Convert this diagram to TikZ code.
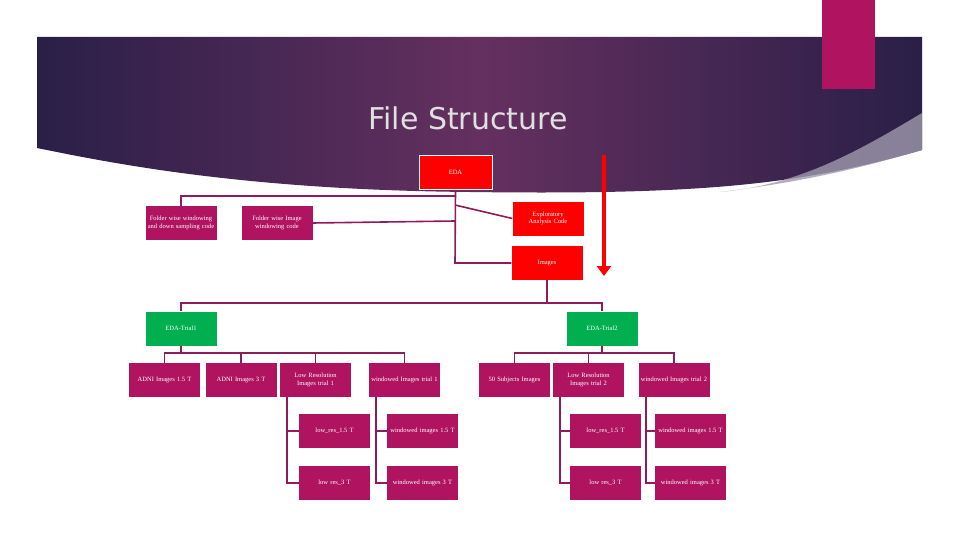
\documentclass[tikz,border=0pt]{standalone}
\usepackage{fontspec}
\setmainfont{Liberation Serif}
\newfontfamily\titlefont{DejaVu Sans}[Scale=1]
\usetikzlibrary{arrows.meta}
\definecolor{mag}{HTML}{B0135F}
\definecolor{lin}{HTML}{8E1B5C}
\definecolor{grn}{HTML}{00B050}
\definecolor{bdark}{HTML}{2A1F48}
\definecolor{bmid}{HTML}{65305F}
\tikzset{
 box/.style={draw=none,inner sep=1pt,align=center,font=\fontsize{6.5}{7.5}\selectfont,text=white,minimum width=71pt,minimum height=34pt,text width=69pt},
 m/.style={box,fill=mag},
 r/.style={box,fill=red},
 g/.style={box,fill=grn},
 ln/.style={draw=lin,line width=1.6pt}
}
\begin{document}
\begin{tikzpicture}[x=1pt,y=-1pt]
\useasboundingbox (0,0) rectangle (960,540);
\fill[white] (0,0) rectangle (960,540);
% banner
\shade[left color=bdark,right color=bdark,middle color=bmid] (37,37) -- (922,37) -- (922,150) .. controls (800,185) and (700,195) .. (470,192) .. controls (250,190) and (120,165) .. (37,148) -- cycle;
\fill[white!55!bdark,opacity=0.8] (922,113) .. controls (860,150) and (800,185) .. (720,192) .. controls (820,180) and (880,162) .. (922,150) -- cycle;
\fill[mag] (822,0) rectangle (875,89);
\node[font=\titlefont\fontsize{30}{34}\selectfont,text=white!88!black] (title) at (468,118) {File Structure};
% top level
\node[r,draw=white,line width=1pt,minimum width=73pt,text width=71pt] (eda) at (455.5,172.5) {EDA};
\node[m] (f1) at (181,223) {Folder wise windowing and down sampling code};
\node[m] (f2) at (277,223) {Folder wise Image windowing code};
\node[r] (exp) at (548,218.5) {Exploratory Analysis Code};
\node[r] (img) at (547,263) {Images};
\draw[-{Triangle[width=14pt,length=10pt]},draw=red,line width=4pt] (604,155) coordinate (a1) -- (604,276) coordinate (a2);
\coordinate (j1) at (455,196);
\draw[ln] (eda.south) -- (455,263) -- (img.west);
\draw[ln] (j1) -| (f1.north);
\draw[ln] (f2.east) -- (455,221);
\draw[ln] (455,205) -- (exp.west);
% trials
\node[g] (t1) at (181,328.5) {EDA-Trial1};
\node[g] (t2) at (602,328.5) {EDA-Trial2};
\draw[ln] (img.south) -- (547,303);
\draw[ln] (t1.north) |- (602,303) -- (t2.north);
% trial1 children
\node[m] (a15) at (164.5,380) {ADNI Images 1.5 T};
\node[m] (a3) at (241,380) {ADNI Images 3 T};
\node[m] (lr1) at (315.5,380) {Low Resolution Images trial 1};
\node[m] (w1) at (404.5,380) {windowed Images trial 1};
\draw[ln] (t1.south) -- (181,353);
\draw[ln] (a15.north) |- (w1.north |- 0,353) -- (w1.north);
\draw[ln] (a3.north) -- (241,353);
\draw[ln] (lr1.north) -- (315.5,353);
\node[m] (lr115) at (334.5,431) {low\_res\_1.5 T};
\node[m] (lr13) at (334.5,483) {low res\_3 T};
\node[m] (w115) at (422.5,431) {windowed images 1.5 T};
\node[m] (w13) at (422.5,483) {windowed images 3 T};
\draw[ln] (287,397) |- (lr13.west);
\draw[ln] (287,431) -- (lr115.west);
\draw[ln] (376,397) |- (w13.west);
\draw[ln] (376,431) -- (w115.west);
% trial2 children
\node[m] (s50) at (514.5,380) {50 Subjects Images};
\node[m] (lr2) at (588.5,380) {Low Resolution Images trial 2};
\node[m] (w2) at (674,380) {windowed Images trial 2};
\draw[ln] (t2.south) -- (602,353);
\draw[ln] (s50.north) |- (w2.north |- 0,353) -- (w2.north);
\draw[ln] (lr2.north) -- (588.5,353);
\node[m] (lr215) at (605.5,431) {low\_res\_1.5 T};
\node[m] (lr23) at (605.5,483) {low res\_3 T};
\node[m] (w215) at (690.5,431) {windowed images 1.5 T};
\node[m] (w23) at (690.5,483) {windowed images 3 T};
\draw[ln] (560,397) |- (lr23.west);
\draw[ln] (560,431) -- (lr215.west);
\draw[ln] (646,397) |- (w23.west);
\draw[ln] (646,431) -- (w215.west);
\end{tikzpicture}
\end{document}
